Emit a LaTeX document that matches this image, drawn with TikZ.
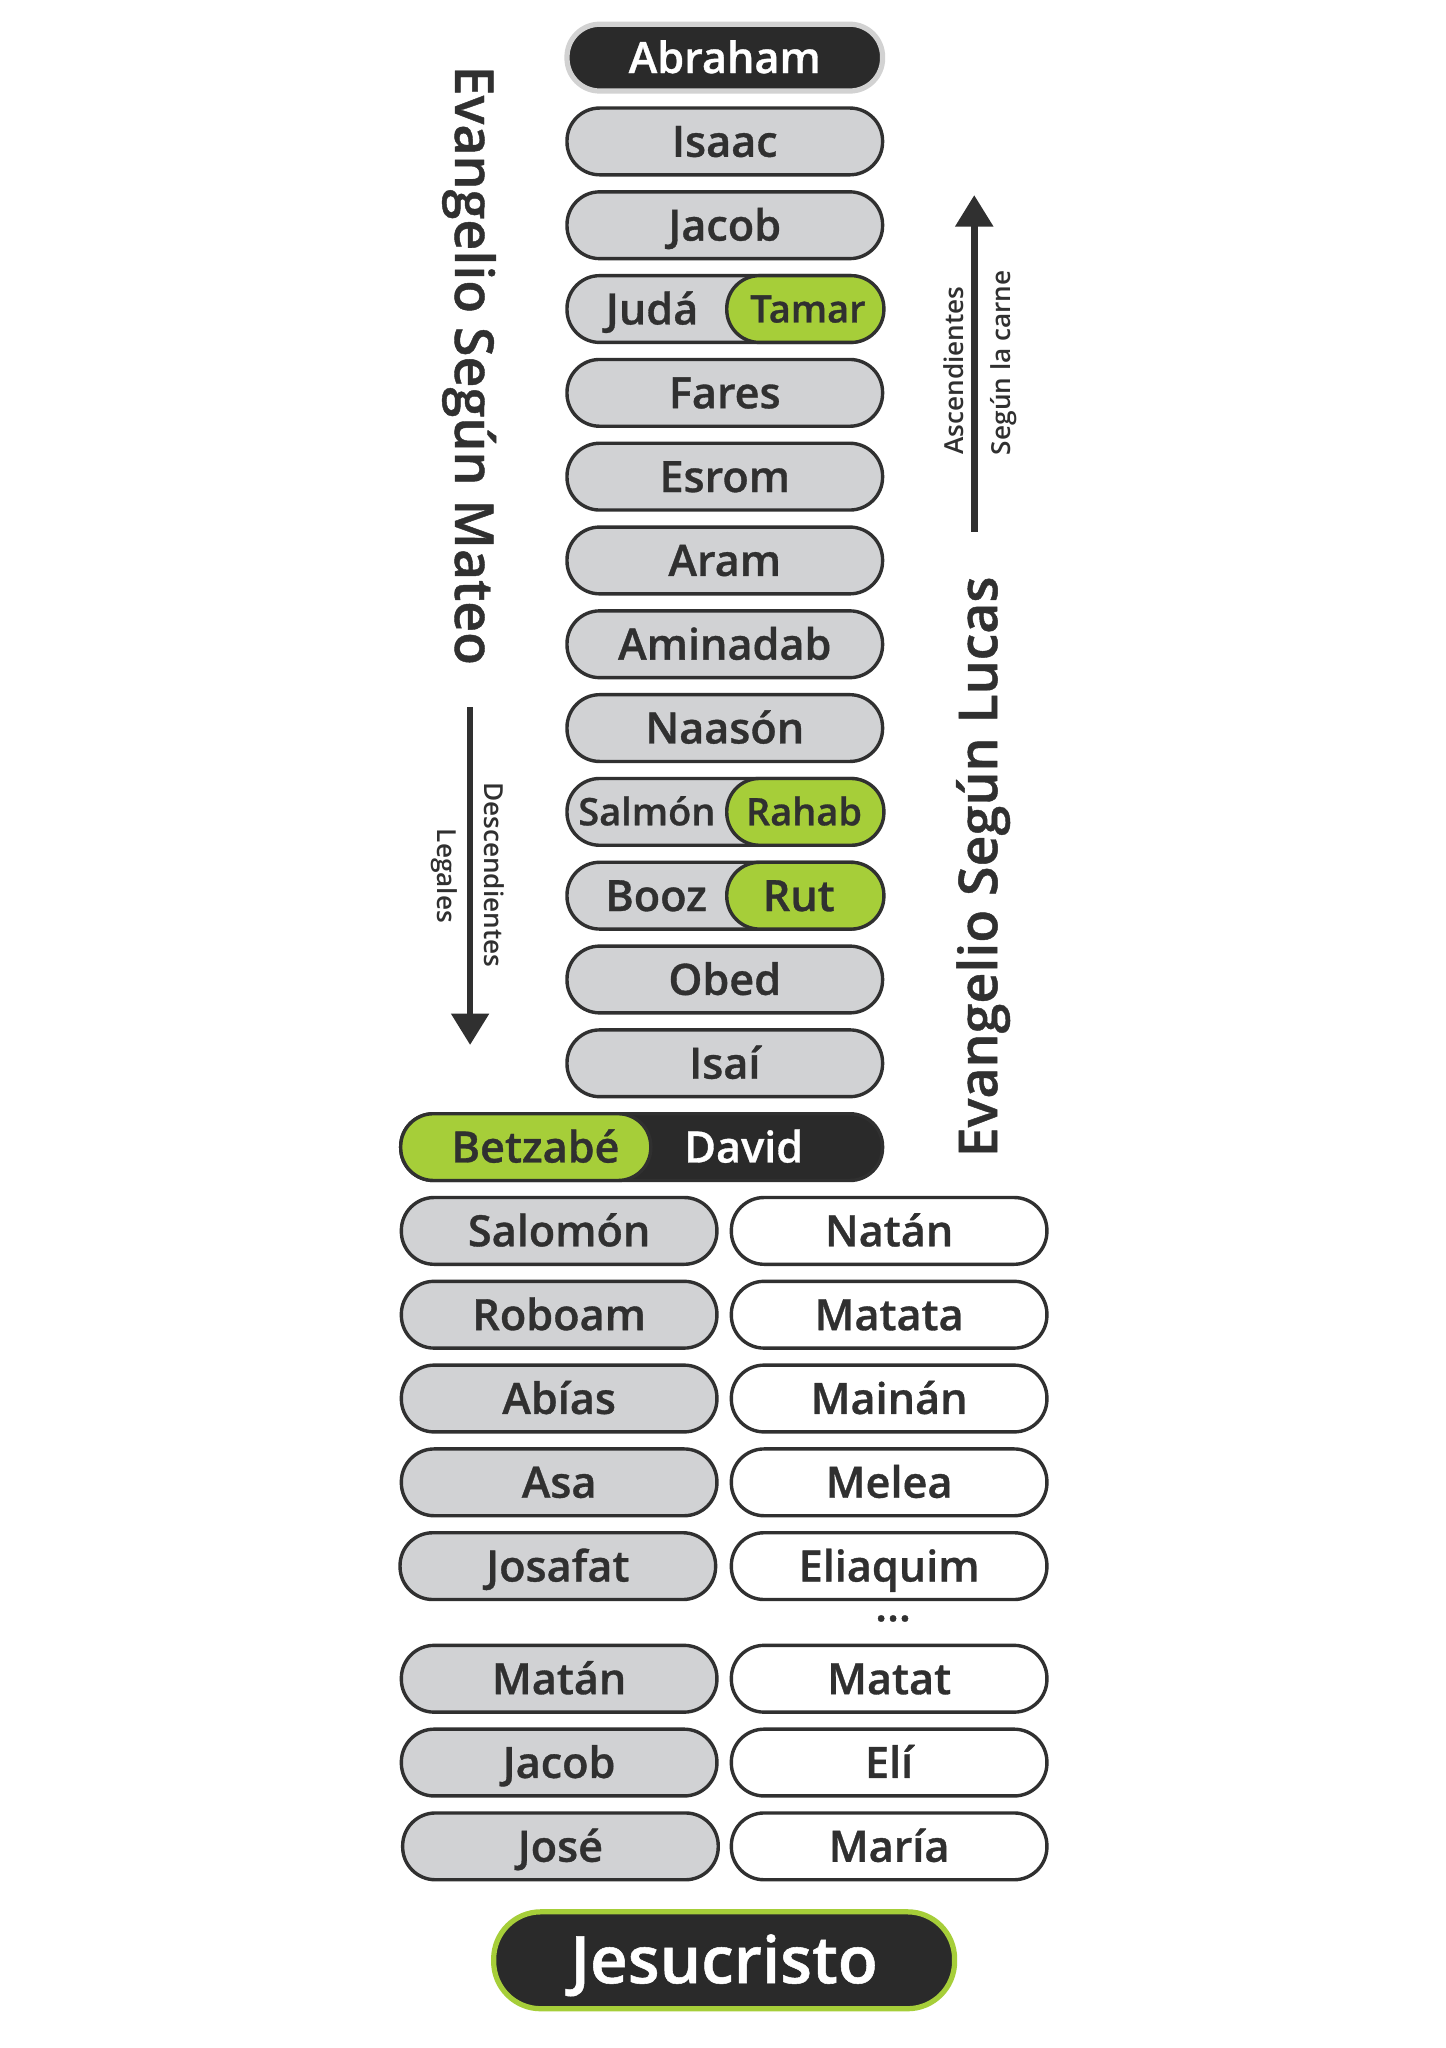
\documentclass[tikz,border=0pt]{standalone}
\usepackage{fontspec}
\IfFontExistsTF{Open Sans SemiBold}{%
  \setmainfont{Open Sans}[BoldFont={Open Sans SemiBold},BoldFeatures={FakeBold=0.8}]%
  \newfontfamily\notefont{Open Sans SemiBold}%
}{%
  \IfFontExistsTF{Open Sans Semibold}{%
    \setmainfont{Open Sans}[BoldFont={Open Sans Semibold},BoldFeatures={FakeBold=0.8}]%
    \newfontfamily\notefont{Open Sans Semibold}%
  }{%
    \setmainfont{Open Sans}%
    \newfontfamily\notefont{Open Sans}%
  }%
}
\usetikzlibrary{arrows.meta}
\definecolor{ink}{HTML}{303030}
\definecolor{boxgray}{HTML}{D1D2D4}
\definecolor{lime}{HTML}{A6CE39}
\definecolor{blackbox}{HTML}{2A2A2A}
\definecolor{rimgray}{HTML}{D2D2D2}
\tikzset{
  pill/.style={draw=ink, line width=2.6pt, rounded corners=25pt, minimum height=51pt,
    minimum width=241pt, inner sep=0pt, fill=boxgray, text=ink,
    font=\bfseries\fontsize{33}{36}\selectfont, text height=23.5pt, text depth=0pt},
  wpill/.style={pill, fill=white},
  gpill/.style={pill, fill=lime},
  nametext/.style={inner sep=0pt, text=ink, font=\bfseries\fontsize{33}{36}\selectfont,
    text height=23.5pt, text depth=0pt},
  smalltext/.style={inner sep=0pt, text=ink, font=\bfseries\fontsize{29}{32}\selectfont,
    text height=20.5pt, text depth=0pt},
  gospel/.style={inner sep=0pt, text=ink, font=\bfseries\fontsize{41}{44}\selectfont,
    text height=29pt, text depth=0pt},
  sidenote/.style={inner sep=0pt, text=ink, font=\notefont\fontsize{20}{22}\selectfont,
    text height=14pt, text depth=0pt},
  arrowline/.style={draw=ink, line width=5pt, -{Triangle[width=28pt,length=24pt]}}
}
\begin{document}
\begin{tikzpicture}[x=1pt,y=-1pt]
\useasboundingbox[fill=white] (0,0) rectangle (1104,1564);

% upper column
\node[pill, fill=blackbox, draw=rimgray, line width=4pt, text=white] (abraham) at (553.5,44) {Abraham};
\node[pill] (isaac) at (553.5,108) {Isaac};
\node[pill] (jacob) at (553.5,172) {Jacob};
\node[pill] (juda) at (553.5,236) {};
\node[gpill, minimum width=120pt] (tamar) at (615,236) {};
\node[nametext] (judat) at (498,236) {Judá};
\node[nametext, font=\bfseries\fontsize{29}{32}\selectfont, text height=20.5pt] (tamart) at (617,236) {Tamar};
\node[pill] (fares) at (553.5,300) {Fares};
\node[pill] (esrom) at (553.5,364) {Esrom};
\node[pill] (aram) at (553.5,428) {Aram};
\node[pill] (aminadab) at (553.5,492) {Aminadab};
\node[pill] (naason) at (553.5,556) {Naasón};
\node[pill] (salmon) at (553.5,620) {};
\node[gpill, minimum width=120pt] (rahab) at (615,620) {};
\node[smalltext] (salmont) at (494,620) {Salmón};
\node[smalltext] (rahabt) at (614,620) {Rahab};
\node[pill] (booz) at (553.5,684) {};
\node[gpill, minimum width=120pt] (rut) at (615,684) {};
\node[nametext] (boozt) at (501,684) {Booz};
\node[nametext] (rutt) at (610,684) {Rut};
\node[pill] (obed) at (553.5,748) {Obed};
\node[pill] (isai) at (553.5,812) {Isaí};

% David row
\node[pill, fill=blackbox, minimum width=368pt] (david) at (490,876) {};
\node[gpill, minimum width=191pt] (betzabe) at (401.5,876) {};
\node[nametext] (betzabet) at (409,876) {Betzabé};
\node[nametext, text=white] (davidt) at (568,876) {David};

% lower columns
\node[pill] (salomon) at (427,940) {Salomón};
\node[pill] (roboam) at (427,1004) {Roboam};
\node[pill] (abias) at (427,1068) {Abías};
\node[pill] (asa) at (427,1132) {Asa};
\node[pill] (josafat) at (426,1196) {Josafat};
\node[pill] (matan) at (427,1282) {Matán};
\node[pill] (jacobb) at (427,1346) {Jacob};
\node[pill] (jose) at (428,1410) {José};

\node[wpill] (natan) at (679,940) {Natán};
\node[wpill] (matata) at (679,1004) {Matata};
\node[wpill] (mainan) at (679,1068) {Mainán};
\node[wpill] (melea) at (679,1132) {Melea};
\node[wpill] (eliaquim) at (679,1196) {Eliaquim};
\node[nametext, text height=6pt] (dots) at (682,1235) {...};
\node[wpill] (matat) at (679,1282) {Matat};
\node[wpill] (eli) at (679,1346) {Elí};
\node[wpill] (maria) at (679,1410) {María};

% Jesucristo
\node[pill, minimum width=352pt, minimum height=74pt, rounded corners=36pt, fill=blackbox,
  draw=lime, line width=4pt, text=white, font=\bfseries\fontsize{50}{54}\selectfont,
  text height=35pt] (jesus) at (553,1497) {Jesucristo};

% gospel titles
\node[gospel, rotate=-90] (mateo) at (362,279) {Evangelio Según Mateo};
\node[gospel, rotate=90] (lucas) at (747,662) {Evangelio Según Lucas};

% arrows
\coordinate (mtop) at (359,540);
\coordinate (mbot) at (359,798);
\draw[arrowline] (mtop) -- (mbot);
\node[sidenote, rotate=-90] (desc) at (377,668) {Descendientes};
\node[sidenote, rotate=-90] (leg) at (341,669) {Legales};

\coordinate (lbot) at (744,406);
\coordinate (ltop) at (744,149);
\draw[arrowline] (lbot) -- (ltop);
\node[sidenote, rotate=90] (asc) at (729,283) {Ascendientes};
\node[sidenote, rotate=90] (carne) at (765,277) {Según la carne};
\end{tikzpicture}
\end{document}
